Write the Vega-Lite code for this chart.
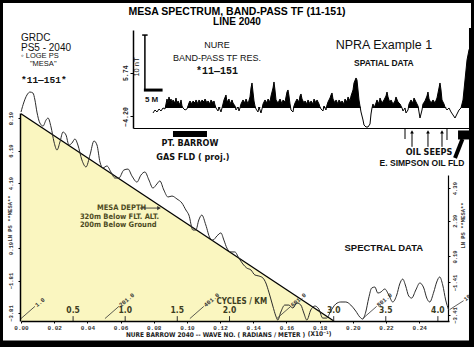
{
"$schema": "https://vega.github.io/schema/vega-lite/v6.json",
"width": 474, "height": 347, "padding": 0, "autosize": {"type": "none"},
"background": "#ffffff",
"config": {"view": {"stroke": "#000000", "strokeWidth": 6}, "font": "Liberation Sans", "axis": {"grid": false}},
"title": {"text": "MESA SPECTRUM, BAND-PASS TF (11-151)", "subtitle": "LINE 2040", "anchor": "middle", "frame": "group", "offset": -27, "font": "Liberation Sans", "fontSize": 10.5, "fontWeight": "bold", "color": "#000000", "subtitleFont": "Liberation Sans", "subtitleFontSize": 10, "subtitleFontWeight": "bold", "subtitleColor": "#000000", "subtitlePadding": 0},
"datasets": {
"mesa": [{"k": 0, "v": 8.45}, {"k": 0.1886, "v": -4.3}],
"spectrum": [
{"k":0,"v":8.56},{"k":0.0018,"v":9.18},{"k":0.0036,"v":9.61},{"k":0.0054,"v":9.79},{"k":0.0072,"v":9.73},{"k":0.0084,"v":9.30},{"k":0.0096,"v":8.56},{"k":0.0114,"v":7.88},{"k":0.0133,"v":7.70},{"k":0.0151,"v":8.07},{"k":0.0163,"v":8.19},{"k":0.0181,"v":7.64},{"k":0.0199,"v":6.72},{"k":0.0217,"v":6.22},{"k":0.0235,"v":6.72},{"k":0.0253,"v":7.33},{"k":0.0271,"v":7.15},{"k":0.0289,"v":6.53},{"k":0.0307,"v":6.65},{"k":0.0325,"v":6.90},{"k":0.0343,"v":6.53},{"k":0.0367,"v":5.61},{"k":0.0392,"v":5.18},{"k":0.0416,"v":5.92},{"k":0.0440,"v":6.78},{"k":0.0458,"v":6.53},{"k":0.0476,"v":5.48},{"k":0.0494,"v":5.12},{"k":0.0518,"v":5.24},{"k":0.0542,"v":4.87},{"k":0.0566,"v":4.50},{"k":0.0590,"v":4.50},{"k":0.0620,"v":4.99},{"k":0.0645,"v":5.05},{"k":0.0669,"v":4.62},{"k":0.0699,"v":4.25},{"k":0.0723,"v":4.68},{"k":0.0747,"v":4.87},{"k":0.0771,"v":4.38},{"k":0.0795,"v":3.88},{"k":0.0819,"v":4.13},{"k":0.0837,"v":4.32},{"k":0.0861,"v":3.76},{"k":0.0886,"v":3.33},{"k":0.0910,"v":3.39},{"k":0.0940,"v":3.21},{"k":0.0970,"v":2.96},{"k":0.0994,"v":2.53},{"k":0.1012,"v":2.22},{"k":0.1036,"v":1.30},{"k":0.1054,"v":1.30},{"k":0.1072,"v":1.92},{"k":0.1090,"v":2.22},{"k":0.1114,"v":1.61},{"k":0.1139,"v":0.81},{"k":0.1157,"v":0.68},{"k":0.1181,"v":0.93},{"k":0.1205,"v":1.12},{"k":0.1223,"v":0.68},{"k":0.1241,"v":0.19},{"k":0.1265,"v":-0.05},{"k":0.1289,"v":-0.05},{"k":0.1313,"v":-0.42},{"k":0.1337,"v":-0.79},{"k":0.1361,"v":-1.04},{"k":0.1386,"v":-1.16},{"k":0.1410,"v":-1.47},{"k":0.1434,"v":-1.53},{"k":0.1458,"v":-1.65},{"k":0.1476,"v":-1.96},{"k":0.1494,"v":-2.52},{"k":0.1518,"v":-3.38},{"k":0.1536,"v":-3.99},{"k":0.1548,"v":-4.24},{"k":0.1566,"v":-3.75},{"k":0.1590,"v":-3.32},{"k":0.1614,"v":-3.32},{"k":0.1639,"v":-3.50},{"k":0.1663,"v":-3.19},{"k":0.1687,"v":-3.32},{"k":0.1705,"v":-3.81},{"k":0.1723,"v":-4.24},{"k":0.1747,"v":-3.62},{"k":0.1771,"v":-3.38},{"k":0.1795,"v":-3.56},{"k":0.1819,"v":-4.12},{"k":0.1843,"v":-4.12},{"k":0.1867,"v":-3.69},{"k":0.1898,"v":-3.25},{"k":0.1928,"v":-3.13},{"k":0.1958,"v":-3.13},{"k":0.1988,"v":-3.32},{"k":0.2018,"v":-3.69},{"k":0.2042,"v":-4.05},{"k":0.2060,"v":-4.18},{"k":0.2078,"v":-3.75},{"k":0.2096,"v":-2.89},{"k":0.2114,"v":-2.27},{"k":0.2133,"v":-2.21},{"k":0.2151,"v":-2.58},{"k":0.2169,"v":-2.52},{"k":0.2193,"v":-2.33},{"k":0.2217,"v":-2.70},{"k":0.2241,"v":-3.13},{"k":0.2265,"v":-2.70},{"k":0.2283,"v":-2.02},{"k":0.2301,"v":-1.72},{"k":0.2319,"v":-2.15},{"k":0.2337,"v":-2.76},{"k":0.2355,"v":-2.89},{"k":0.2380,"v":-2.39},{"k":0.2404,"v":-1.96},{"k":0.2428,"v":-2.27},{"k":0.2446,"v":-2.89},{"k":0.2464,"v":-3.13},{"k":0.2488,"v":-2.52},{"k":0.2506,"v":-1.90},{"k":0.2524,"v":-1.59},{"k":0.2542,"v":-2.08},{"k":0.2560,"v":-3.01},{"k":0.2578,"v":-3.62}
],
"spatial": [
{"km":5.88,"nT":-3.41},{"km":6.47,"nT":-2.73},{"km":7.06,"nT":-3.18},{"km":7.65,"nT":-2.5},{"km":8.24,"nT":-2.95},{"km":8.82,"nT":-2.27},{"km":9.41,"nT":-2.5},
{"km":9.71,"nT":-1.36},{"km":10.0,"nT":-0.23},{"km":10.29,"nT":-1.14},{"km":10.59,"nT":0.23},{"km":10.88,"nT":-0.91},{"km":11.18,"nT":-0.23},{"km":11.47,"nT":-1.36},{"km":11.76,"nT":-0.45},{"km":12.35,"nT":-1.14},{"km":12.65,"nT":0},{"km":12.94,"nT":-1.36},{"km":13.24,"nT":-0.68},{"km":13.82,"nT":-1.59},{"km":14.12,"nT":-0.45},{"km":14.41,"nT":-1.82},
{"km":14.71,"nT":-2.27},{"km":15.29,"nT":-2.73},{"km":15.88,"nT":-2.5},{"km":16.18,"nT":-1.82},
{"km":16.47,"nT":-1.14},{"km":16.76,"nT":-0.68},{"km":17.35,"nT":-1.36},{"km":17.65,"nT":-0.68},{"km":18.24,"nT":-1.14},{"km":18.53,"nT":-0.45},{"km":19.12,"nT":-1.36},{"km":19.41,"nT":-0.45},{"km":20.0,"nT":-1.14},{"km":20.29,"nT":-0.45},{"km":20.88,"nT":-0.91},{"km":21.18,"nT":-0.23},{"km":21.76,"nT":-1.14},{"km":22.06,"nT":-0.68},{"km":22.65,"nT":-1.36},{"km":22.94,"nT":-0.45},{"km":23.53,"nT":-1.14},{"km":23.82,"nT":-0.68},{"km":24.12,"nT":-1.59},
{"km":24.41,"nT":-2.27},{"km":25.0,"nT":-2.95},{"km":25.29,"nT":-2.05},{"km":25.88,"nT":-3.18},{"km":26.18,"nT":-2.27},
{"km":26.47,"nT":-1.36},{"km":26.76,"nT":-0.45},{"km":27.35,"nT":0.68},{"km":27.65,"nT":-0.91},{"km":28.24,"nT":-0.23},{"km":28.53,"nT":-1.36},{"km":29.12,"nT":-0.45},{"km":29.41,"nT":-1.14},{"km":30.0,"nT":-1.82},
{"km":30.29,"nT":-2.73},{"km":30.88,"nT":-2.05},{"km":31.18,"nT":-2.95},{"km":31.47,"nT":-2.27},
{"km":31.76,"nT":-1.36},{"km":32.35,"nT":-0.45},{"km":32.94,"nT":-1.14},{"km":33.24,"nT":-0.23},{"km":33.82,"nT":-1.36},{"km":34.41,"nT":0.23},{"km":34.71,"nT":2.27},{"km":35.0,"nT":3.41},{"km":35.29,"nT":1.36},{"km":35.59,"nT":-0.68},{"km":35.88,"nT":-1.82},
{"km":36.18,"nT":-2.5},{"km":36.76,"nT":-3.18},{"km":37.06,"nT":-2.05},{"km":37.65,"nT":-3.41},{"km":37.94,"nT":-2.5},
{"km":38.24,"nT":-1.36},{"km":38.82,"nT":-0.45},{"km":39.41,"nT":-1.14},{"km":39.71,"nT":-0.23},{"km":40.29,"nT":-0.91},{"km":40.59,"nT":0.45},{"km":41.18,"nT":2.27},{"km":41.47,"nT":3.64},{"km":41.76,"nT":1.82},{"km":42.06,"nT":-0.45},{"km":42.65,"nT":-1.14},{"km":43.24,"nT":-0.23},{"km":43.82,"nT":-1.36},{"km":44.12,"nT":-0.45},{"km":44.71,"nT":-0.91},{"km":45.0,"nT":0.23},{"km":45.29,"nT":1.36},{"km":45.59,"nT":1.82},{"km":45.88,"nT":0.45},{"km":46.18,"nT":-1.36},
{"km":46.47,"nT":-2.73},{"km":47.06,"nT":-3.18},{"km":47.35,"nT":-1.82},
{"km":47.65,"nT":-1.14},{"km":48.24,"nT":-0.23},{"km":48.82,"nT":-0.91},{"km":49.12,"nT":0.45},{"km":49.41,"nT":0.91},{"km":49.71,"nT":-0.23},{"km":50.29,"nT":-1.14},{"km":50.59,"nT":-0.68},{"km":51.18,"nT":-1.36},{"km":51.47,"nT":-0.45},{"km":52.06,"nT":-1.36},{"km":52.35,"nT":-0.68},{"km":52.94,"nT":-1.36},{"km":53.24,"nT":-0.23},{"km":53.82,"nT":-1.14},{"km":54.12,"nT":-0.45},{"km":54.71,"nT":-1.36},{"km":55.0,"nT":-2.05},
{"km":55.29,"nT":-2.5},{"km":55.88,"nT":-2.95},{"km":56.18,"nT":-1.82},{"km":56.76,"nT":-2.73},{"km":57.06,"nT":-1.59},
{"km":57.35,"nT":-0.91},{"km":57.94,"nT":0},{"km":58.24,"nT":0.68},{"km":58.53,"nT":1.14},{"km":58.82,"nT":-0.23},{"km":59.41,"nT":-1.14},{"km":59.71,"nT":-0.45},{"km":60.29,"nT":-1.36},{"km":60.59,"nT":-0.45},{"km":61.18,"nT":-1.14},{"km":61.47,"nT":-0.68},{"km":62.06,"nT":-1.36},{"km":62.35,"nT":-0.23},{"km":62.94,"nT":-0.91},{"km":63.24,"nT":0.23},{"km":63.82,"nT":-0.68},{"km":64.12,"nT":0.45},{"km":64.71,"nT":1.82},{"km":65.0,"nT":3.41},{"km":65.59,"nT":4.55},{"km":65.88,"nT":4.09},{"km":66.18,"nT":1.82},{"km":66.47,"nT":-0.45},{"km":66.76,"nT":-1.82},
{"km":67.06,"nT":-3.18},{"km":67.65,"nT":-5.0},{"km":67.94,"nT":-6.14},{"km":68.53,"nT":-6.59},{"km":69.12,"nT":-6.59},{"km":69.71,"nT":-5.91},{"km":70.0,"nT":-3.64},{"km":70.29,"nT":-2.27},
{"km":70.59,"nT":-1.36},{"km":70.88,"nT":-2.27},{"km":71.47,"nT":-1.14},{"km":71.76,"nT":-0.45},{"km":72.35,"nT":-1.36},{"km":72.65,"nT":0},{"km":73.24,"nT":-1.14},{"km":73.82,"nT":-0.45},{"km":74.41,"nT":0.45},{"km":74.71,"nT":1.36},{"km":75.0,"nT":0.23},{"km":75.59,"nT":-1.14},{"km":75.88,"nT":-0.45},{"km":76.47,"nT":-1.36},{"km":77.06,"nT":-0.68},{"km":77.35,"nT":0.23},{"km":77.94,"nT":-0.91},{"km":78.53,"nT":-1.36},{"km":79.12,"nT":-2.27},
{"km":79.41,"nT":-2.95},{"km":80.0,"nT":-2.27},{"km":80.29,"nT":-3.41},{"km":80.88,"nT":-2.73},
{"km":81.18,"nT":-1.36},{"km":81.76,"nT":-0.45},{"km":82.35,"nT":-1.14},{"km":82.65,"nT":0},{"km":83.24,"nT":-0.91},{"km":83.82,"nT":-1.82},
{"km":84.12,"nT":-3.18},{"km":84.41,"nT":-4.55},{"km":84.71,"nT":-3.64},{"km":85.0,"nT":-2.73},
{"km":85.29,"nT":-1.36},{"km":85.88,"nT":-0.68},{"km":86.47,"nT":0.45},{"km":86.76,"nT":1.36},{"km":87.06,"nT":-0.23},{"km":87.65,"nT":-1.14},{"km":88.24,"nT":-0.45},{"km":88.82,"nT":-1.14},{"km":89.41,"nT":0},{"km":90.0,"nT":2.27},{"km":90.29,"nT":3.41},{"km":90.59,"nT":1.82},{"km":90.88,"nT":-0.45},{"km":91.47,"nT":-1.36},{"km":91.76,"nT":-2.05},
{"km":92.35,"nT":-2.73},{"km":92.94,"nT":-2.27},{"km":93.53,"nT":-3.18},{"km":94.12,"nT":-3.86},{"km":94.71,"nT":-4.55},{"km":95.29,"nT":-3.64},{"km":95.88,"nT":-2.73},{"km":96.47,"nT":-2.27},
{"km":97.06,"nT":-0.45},{"km":97.65,"nT":4.09},{"km":98.24,"nT":8.64},{"km":98.82,"nT":10.91},{"km":99.41,"nT":12.05},{"km":100.0,"nT":12.73},{"km":100.29,"nT":12.73}
],
"cycles": [{"k":0.0314,"v":-3.65,"vt":-4.3,"vt2":-4.0,"lab":"0.5"},{"k":0.0628,"v":-3.65,"vt":-4.3,"vt2":-4.0,"lab":"1.0"},{"k":0.0942,"v":-3.65,"vt":-4.3,"vt2":-4.0,"lab":"1.5"},{"k":0.1257,"v":-3.65,"vt":-4.3,"vt2":-4.0,"lab":"2.0"},{"k":0.1885,"v":-3.65,"vt":-4.3,"vt2":-4.0,"lab":"3.0"},{"k":0.2199,"v":-3.65,"vt":-4.3,"vt2":-4.0,"lab":"3.5"},{"k":0.2513,"v":-3.65,"vt":-4.3,"vt2":-4.0,"lab":"4.0"}],
"idx": [{"k":0.0,"k2":0.0084,"v":-4.15,"v2":-3.4,"lab":"1.0"},{"k":0.0506,"k2":0.059,"v":-4.15,"v2":-3.4,"lab":"201.0"},{"k":0.1018,"k2":0.1102,"v":-4.15,"v2":-3.4,"lab":"401.0"},{"k":0.1542,"k2":0.1626,"v":-4.15,"v2":-3.4,"lab":"601.0"},{"k":0.206,"k2":0.2144,"v":-4.15,"v2":-3.4,"lab":"801.0"},{"k":0.2584,"k2":0.2668,"v":-3.6,"v2":-3.05,"lab":"1001.0"}]
},
"resolve": {"scale": {"x": "independent", "y": "independent"}},
"layer": [
{
 "encoding": {
  "x": {"field": "k", "type": "quantitative", "scale": {"domain": [0, 0.258], "range": [21, 449], "nice": false, "zero": false},
        "axis": {"orient": "bottom", "offset": -26, "values": [0,0.02,0.04,0.06,0.08,0.1,0.12,0.14,0.16,0.18,0.2,0.22,0.24], "format": ".2f", "labelFont": "Liberation Mono", "labelFontSize": 6, "labelFontWeight": "bold", "labelColor": "#333333", "labelPadding": 1, "labelFlush": false, "labelOverlap": false, "tickSize": 2, "tickColor": "#000000", "domainColor": "#000000", "domainWidth": 1.5, "grid": false, "zindex": 2,
                 "title": "NURE BARROW 2040 -- WAVE NO. ( RADIANS / METER )", "titleFont": "Liberation Sans Narrow, DejaVu Sans Condensed, Roboto, sans-serif", "titleFontSize": 6.5, "titleFontWeight": "bold", "titleColor": "#222222", "titleX": 215, "titleY": 13, "titleAlign": "center", "titleBaseline": "middle", "titleAngle": 0}},
  "y": {"field": "v", "type": "quantitative", "scale": {"domain": [-4.3, 8.5], "range": [321, 113], "nice": false, "zero": false},
        "axis": {"orient": "left", "offset": -20, "values": [8.19,6.19,4.19,0.19,-1.81,-3.81], "format": ".2f", "labelAngle": 270, "labelAlign": "center", "labelBaseline": "bottom", "labelPadding": 5, "labelFont": "Liberation Mono", "labelFontSize": 5.5, "labelFontWeight": "bold", "labelColor": "#333333", "tickSize": 2, "tickColor": "#000000", "domainColor": "#000000", "domainWidth": 1.5, "grid": false, "zindex": 2,
                 "title": "LN PS    **MESA**", "titleFont": "Liberation Mono", "titleFontSize": 5.5, "titleFontWeight": "bold", "titleColor": "#333333", "titleAngle": 270, "titleX": -11, "titleY": 218, "titleAlign": "center", "titleBaseline": "middle"}}
 },
 "layer": [
  {"data": {"name": "mesa"}, "mark": {"type": "area", "color": "#faf6c0"}, "encoding": {"y2": {"datum": -4.3}}},
  {"data": {"name": "mesa"}, "mark": {"type": "line", "color": "#000000", "strokeWidth": 1.3}, "encoding": {}},
  {"data": {"name": "spectrum"}, "mark": {"type": "line", "color": "#2b2b2b", "strokeWidth": 1, "interpolate": "monotone"}, "encoding": {}},
  {"data": {"name": "cycles"}, "mark": {"type": "rule", "color": "#333333", "strokeWidth": 1}, "encoding": {"y": {"field": "vt", "type": "quantitative"}, "y2": {"field": "vt2"}}},
  {"data": {"name": "cycles"}, "mark": {"type": "text", "font": "Liberation Sans Narrow, DejaVu Sans Condensed, Roboto, sans-serif", "fontSize": 8.5, "fontWeight": "bold", "color": "#3d3d1f", "baseline": "middle", "align": "center"}, "encoding": {"text": {"field": "lab"}}},
  {"data": {"name": "idx"}, "mark": {"type": "rule", "color": "#333333", "strokeWidth": 0.8}, "encoding": {"x2": {"field": "k2"}, "y2": {"field": "v2"}}},
  {"data": {"name": "idx"}, "mark": {"type": "text", "font": "Liberation Mono", "fontSize": 6, "fontWeight": "bold", "color": "#333333", "angle": 320, "align": "left", "baseline": "middle", "dx": 1}, "encoding": {"x": {"field": "k2", "type": "quantitative"}, "y": {"field": "v2", "type": "quantitative"}, "text": {"field": "lab"}}},
  {"data": {"values": [{"k": 0.0458, "v": 2.65, "t": "MESA DEPTH"}, {"k": 0.0355, "v": 2.1, "t": "320m Below FLT. ALT."}, {"k": 0.0355, "v": 1.61, "t": "200m Below Ground"}]}, "mark": {"type": "text", "font": "Liberation Sans Narrow, DejaVu Sans Condensed, Roboto, sans-serif", "fontSize": 7.5, "fontWeight": "bold", "color": "#4d4b1f", "align": "left", "baseline": "middle"}, "encoding": {"text": {"field": "t"}}},
  {"data": {"values": [{"k": 0.0717, "k2": 0.0828, "v": 2.65}]}, "mark": {"type": "rule", "color": "#333333", "strokeWidth": 0.9}, "encoding": {"x2": {"field": "k2"}}},
  {"data": {"values": [{"k": 0.0832, "v": 2.65}]}, "mark": {"type": "point", "shape": "triangle-right", "filled": true, "color": "#333333", "size": 18, "opacity": 1}, "encoding": {}},
  {"data": {"values": [{"k": 0.2187, "v": 0.19, "t": "SPECTRAL DATA"}]}, "mark": {"type": "text", "font": "Liberation Sans", "fontSize": 9.5, "fontWeight": "bold", "color": "#111111", "align": "center", "baseline": "middle"}, "encoding": {"text": {"field": "t"}}},
  {"data": {"values": [{"k": 0.1331, "v": -3.13, "t": "CYCLES / KM"}]}, "mark": {"type": "text", "font": "Liberation Sans Narrow, DejaVu Sans Condensed, Roboto, sans-serif", "fontSize": 8, "fontWeight": "bold", "color": "#3d3d1f", "align": "center", "baseline": "middle"}, "encoding": {"text": {"field": "t"}}},
  {"data": {"values": [{"k": 0.18, "v": -5.1, "t": "(X10⁻¹)"}]}, "mark": {"type": "text", "font": "Liberation Sans Narrow, DejaVu Sans Condensed, Roboto, sans-serif", "fontSize": 6.5, "fontWeight": "bold", "color": "#222222", "align": "center", "baseline": "middle"}, "encoding": {"text": {"field": "t"}}},
  {"data": {"values": [{"k": 0, "v": 13.12, "t": "GRDC"}, {"k": 0, "v": 12.5, "t": "PS5 - 2040"}]}, "mark": {"type": "text", "font": "Liberation Sans", "fontSize": 10, "color": "#111111", "align": "left", "baseline": "middle"}, "encoding": {"text": {"field": "t"}}},
  {"data": {"values": [{"k": 0, "v": 11.98, "t": "◦ LOGE  PS"}, {"k": 0.0054, "v": 11.5, "t": "\"MESA\""}]}, "mark": {"type": "text", "font": "Liberation Sans", "fontSize": 7.5, "color": "#111111", "align": "left", "baseline": "middle"}, "encoding": {"text": {"field": "t"}}},
  {"data": {"values": [{"k": 0, "v": 10.53, "t": "*11—151*"}]}, "mark": {"type": "text", "font": "Liberation Mono", "fontSize": 9.5, "fontWeight": "bold", "color": "#111111", "align": "left", "baseline": "middle"}, "encoding": {"text": {"field": "t"}}}
 ]
},
{"data": {"name": "spatial"}, "mark": {"type": "area", "color": "#000000", "interpolate": "linear"},
 "encoding": {"x": {"field": "km", "type": "quantitative", "scale": {"domain": [0, 100], "range": [133, 473], "nice": false, "zero": false}, "axis": null},
              "y": {"field": "nT", "type": "quantitative", "scale": {"domain": [-2.27, 15.45], "range": [108, 30], "nice": false, "zero": false, "clamp": true}, "axis": null},
              "y2": {"datum": -2.27}}},
{
 "encoding": {
  "x": {"field": "km", "type": "quantitative", "scale": {"domain": [0, 100], "range": [133, 473], "nice": false, "zero": false},
        "axis": {"orient": "bottom", "offset": -219, "labels": false, "ticks": false, "domainColor": "#000000", "domainWidth": 1.2, "title": null, "grid": false}},
  "y": {"field": "nT", "type": "quantitative", "scale": {"domain": [-6.82, 15.45], "range": [128, 30], "nice": false, "zero": false},
        "axis": {"orient": "left", "offset": -133, "values": [-4.2, 5.74], "format": ".2f", "labelAngle": 270, "labelAlign": "center", "labelBaseline": "bottom", "labelPadding": 2, "labelFont": "Liberation Mono", "labelFontSize": 6.5, "labelFontWeight": "bold", "labelColor": "#222222", "tickSize": 3, "tickColor": "#000000", "domainColor": "#000000", "domainWidth": 1.5, "title": null, "grid": false}}
 },
 "layer": [
  {"data": {"name": "spatial"}, "mark": {"type": "line", "color": "#000000", "strokeWidth": 1}, "encoding": {}},
  {"data": {"values": [{"nT": 15.91}]}, "mark": {"type": "rule", "color": "#000000", "strokeWidth": 1.5}, "encoding": {"x": {"value": null}}},
  {"data": {"values": [{"km": 100.29, "nT": 15.91, "nT2": -56.6}]}, "mark": {"type": "rule", "color": "#000000", "strokeWidth": 10}, "encoding": {"y2": {"field": "nT2"}}},
  {"data": {"values": [{"km": -39.2, "km2": 100.5, "nT": -56.6}]}, "mark": {"type": "rule", "color": "#000000", "strokeWidth": 13}, "encoding": {"x2": {"field": "km2"}}},
  {"data": {"values": [{"km": 3.5, "nT": 14.3, "nT2": 1.8}]}, "mark": {"type": "rule", "color": "#000000", "strokeWidth": 1.5}, "encoding": {"y2": {"field": "nT2"}}},
  {"data": {"values": [{"km": 2.7, "km2": 4.3, "nT": 14.3}]}, "mark": {"type": "rule", "color": "#000000", "strokeWidth": 1.5}, "encoding": {"x2": {"field": "km2"}}},
  {"data": {"values": [{"km": 3.2, "km2": 8.7, "nT": 1.8}]}, "mark": {"type": "rule", "color": "#000000", "strokeWidth": 3}, "encoding": {"x2": {"field": "km2"}}},
  {"data": {"values": [{"km": 11.76, "km2": 21.76, "nT": -8.18}]}, "mark": {"type": "rule", "color": "#000000", "strokeWidth": 6}, "encoding": {"x2": {"field": "km2"}}},
  {"data": {"values": [{"km": 80.0, "nT": -6.82, "nT2": -9.32}, {"km": 92.35, "nT": -6.82, "nT2": -9.55}, {"km": 82.06, "nT": -7.9, "nT2": -11.1}, {"km": 86.76, "nT": -7.9, "nT2": -11.1}, {"km": 90.88, "nT": -7.9, "nT2": -11.1}]}, "mark": {"type": "rule", "color": "#000000", "strokeWidth": 1}, "encoding": {"y2": {"field": "nT2"}}},
  {"data": {"values": [{"km": 82.06, "nT": -7.7}, {"km": 86.76, "nT": -7.7}, {"km": 90.88, "nT": -7.7}]}, "mark": {"type": "point", "shape": "triangle-up", "filled": true, "color": "#000000", "size": 14, "opacity": 1}, "encoding": {}},
  {"data": {"values": [{"km": 94.71, "km2": 96.9, "nT": -13.64, "nT2": -9.3}]}, "mark": {"type": "rule", "color": "#000000", "strokeWidth": 4}, "encoding": {"x2": {"field": "km2"}, "y2": {"field": "nT2"}}},
  {"data": {"values": [{"km": 95.6, "km2": 100.3, "nT": -8.4}]}, "mark": {"type": "rule", "color": "#000000", "strokeWidth": 9}, "encoding": {"x2": {"field": "km2"}}},
  {"data": {"values": [{"km": 24.7, "nT": 12.05, "t": "NURE"}, {"km": 24.7, "nT": 9.09, "t": "BAND-PASS  TF  RES."}]}, "mark": {"type": "text", "font": "Liberation Sans", "fontSize": 9, "color": "#111111", "align": "center", "baseline": "middle"}, "encoding": {"text": {"field": "t"}}},
  {"data": {"values": [{"km": 24.7, "nT": 6.14, "t": "*11—151"}]}, "mark": {"type": "text", "font": "Liberation Mono", "fontSize": 10, "fontWeight": "bold", "color": "#111111", "align": "center", "baseline": "middle"}, "encoding": {"text": {"field": "t"}}},
  {"data": {"values": [{"km": 73.8, "nT": 12.05, "t": "NPRA  Example 1"}]}, "mark": {"type": "text", "font": "Liberation Sans", "fontSize": 12.5, "color": "#111111", "align": "center", "baseline": "middle"}, "encoding": {"text": {"field": "t"}}},
  {"data": {"values": [{"km": 73.8, "nT": 7.95, "t": "SPATIAL DATA"}]}, "mark": {"type": "text", "font": "Liberation Sans", "fontSize": 8.5, "fontWeight": "bold", "color": "#111111", "align": "center", "baseline": "middle"}, "encoding": {"text": {"field": "t"}}},
  {"data": {"values": [{"km": 3.5, "nT": -0.45, "t": "5 M"}]}, "mark": {"type": "text", "font": "Liberation Sans", "fontSize": 8, "fontWeight": "bold", "color": "#111111", "align": "left", "baseline": "middle"}, "encoding": {"text": {"field": "t"}}},
  {"data": {"values": [{"km": 1.32, "nT": 7.05, "t": "10 nT"}]}, "mark": {"type": "text", "font": "Liberation Sans", "fontSize": 7.5, "color": "#111111", "align": "center", "baseline": "middle", "angle": 270}, "encoding": {"text": {"field": "t"}}},
  {"data": {"values": [{"km": 16.76, "nT": -10.23, "t": "PT. BARROW"}, {"km": 17.6, "nT": -13.4, "t": "GAS FLD ( proj.)"}, {"km": 87.06, "nT": -12.27, "t": "OIL SEEPS"}]}, "mark": {"type": "text", "font": "Liberation Sans Narrow, DejaVu Sans Condensed, Roboto, sans-serif", "fontSize": 9, "fontWeight": "bold", "color": "#111111", "align": "center", "baseline": "middle"}, "encoding": {"text": {"field": "t"}}},
  {"data": {"values": [{"km": 85.0, "nT": -14.77, "t": "E. SIMPSON OIL FLD"}]}, "mark": {"type": "text", "font": "Liberation Sans", "fontSize": 8.5, "fontWeight": "bold", "color": "#111111", "align": "center", "baseline": "middle"}, "encoding": {"text": {"field": "t"}}}
 ]
},
{"data": {"name": "mesa"}, "mark": {"type": "point", "opacity": 0},
 "encoding": {"y": {"field": "v", "type": "quantitative", "scale": {"domain": [-3.78, 5.2], "range": [321, 175], "nice": false, "zero": false},
   "axis": {"orient": "right", "offset": -26, "values": [-3.41, -1.41, 0.19, 2.39, 4.39], "format": ".2f", "labelAngle": 270, "labelAlign": "center", "labelBaseline": "top", "labelPadding": 2, "labelFont": "Liberation Mono", "labelFontSize": 5.5, "labelFontWeight": "bold", "labelColor": "#333333", "tickSize": 2, "tickColor": "#000000", "domainColor": "#000000", "domainWidth": 1.2, "grid": false,
            "title": "LN PS    **MESA**", "titleFont": "Liberation Mono", "titleFontSize": 5.5, "titleFontWeight": "bold", "titleColor": "#333333", "titleAngle": 270, "titleX": 14, "titleY": 225, "titleAlign": "center", "titleBaseline": "middle"}}}}
]
}
